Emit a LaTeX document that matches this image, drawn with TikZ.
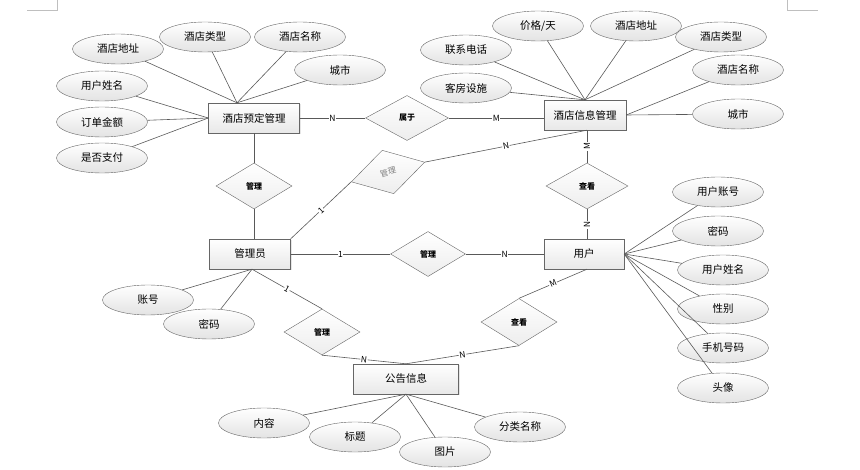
\documentclass[tikz,border=0pt]{standalone}
\usepackage{fontspec}
\newfontfamily\cjk{Noto Sans CJK SC}
\usetikzlibrary{shapes.geometric,shadows}

\begin{document}
\begin{tikzpicture}[x=1pt, y=-1pt,
    entity/.style={draw=black!60, top color=white, bottom color=black!9, minimum width=82pt, minimum height=30pt, inner sep=0pt,
      font=\cjk\fontsize{10.5}{12}\selectfont, drop shadow={opacity=0.2, shadow xshift=1.2pt, shadow yshift=-1.2pt}},
    attr/.style={ellipse, draw=black!60, top color=white, bottom color=black!11, minimum width=91pt, minimum height=30pt, inner sep=0pt,
      font=\cjk\fontsize{10.5}{12}\selectfont},
    rel/.style={diamond, draw=black!60, top color=white, bottom color=black!7, minimum width=76pt, minimum height=46pt, inner sep=0pt,
      font=\cjk\bfseries\fontsize{8}{9}\selectfont},
    conn/.style={draw=black!65, line width=0.6pt},
    card/.style={fill=white, inner sep=0.6pt, font=\cjk\fontsize{8.5}{9}\selectfont}]
    \useasboundingbox (0,0) rectangle (860,470);
    % page corner marks
    \draw[black!25] (27,10) -- (57,10) -- (57,0);
    \draw[black!25] (787,0) -- (787,10) -- (818,10);

    % entities
    \node[entity, minimum width=91pt] (booking) at (254,118) {酒店预定管理};
    \node[entity] (hotel) at (585,115) {酒店信息管理};
    \node[entity, minimum width=81pt] (admin) at (250,254) {管理员};
    \node[entity, minimum width=80pt] (user) at (584,254) {用户};
    \node[entity, minimum width=105pt] (notice) at (406,379) {公告信息};

    % relations
    \node[rel, minimum width=83pt, minimum height=45pt] (belong) at (407,118) {属于};
    \node[rel] (manage1) at (254,186) {管理};
    \node[rel, rotate=15, minimum height=45pt, text=black!50, font=\cjk\fontsize{8}{9}\selectfont] (manage2) at (388,172) {管理};
    \node[rel, minimum width=82pt] (view1) at (587,186) {查看};
    \node[rel, minimum width=75pt, minimum height=45pt] (manage3) at (428,254) {管理};
    \node[rel] (manage4) at (322,332) {管理};
    \node[rel, minimum height=47pt] (view2) at (519,322) {查看};

    % links between entities and relations
    \draw[conn] (booking.east) -- node[card] {N} (belong.west);
    \draw[conn] (belong.east) -- node[card] {M} (belong.east -| hotel.west);
    \draw[conn] (booking.south) -- (manage1.north);
    \draw[conn] (manage1.south) -- (manage1.south |- admin.north);
    \draw[conn] (admin.north east) -- node[card, sloped] {1} (manage2.west);
    \draw[conn] (manage2.east) -- node[card, sloped] {N} ([xshift=2pt]hotel.south);
    \draw[conn] (view1.north) -- node[card, sloped] {M} (view1.north |- hotel.south);
    \draw[conn] (view1.south) -- node[card, sloped, pos=0.53] {N} (view1.south |- user.north);
    \draw[conn] (admin.east) -- node[card] {1} (manage3.west);
    \draw[conn] (manage3.east) -- node[card] {N} (user.west);
    \draw[conn] ([xshift=2pt]admin.south) -- node[card, sloped] {1} (manage4.north);
    \draw[conn] (manage4.south) -- node[card, sloped] {N} (notice.north);
    \draw[conn] (view2.south) -- node[card, sloped] {N} (notice.north);
    \draw[conn] (view2.north) -- node[card, sloped] {M} ([xshift=3pt]user.south);

    % booking attributes
    \node[attr] (bAddr) at (118,49) {酒店地址};
    \node[attr] (bType) at (205,37) {酒店类型};
    \node[attr] (bName) at (300,37) {酒店名称};
    \node[attr] (bCity) at (340,70) {城市};
    \node[attr] (bUser) at (102,86) {用户姓名};
    \node[attr] (bSum) at (102,122) {订单金额};
    \node[attr] (bPaid) at (102,158) {是否支付};
    \coordinate (bTop) at ([xshift=-17pt]booking.north);
    \draw[conn] (bAddr) -- (bTop);
    \draw[conn] (bType) -- (bTop);
    \draw[conn] (bName) -- (bTop);
    \draw[conn] (bCity) -- (bTop);
    \draw[conn] (bUser) -- (booking.west);
    \draw[conn] (bSum) -- (booking.west);
    \draw[conn] (bPaid) -- (booking.west);

    % hotel attributes
    \node[attr] (hTel) at (466,50) {联系电话};
    \node[attr] (hPrice) at (538,26) {价格/天};
    \node[attr] (hAddr) at (636,26) {酒店地址};
    \node[attr] (hType) at (721,37) {酒店类型};
    \node[attr] (hFac) at (466,88) {客房设施};
    \node[attr] (hName) at (738,70) {酒店名称};
    \node[attr] (hCity) at (738,114) {城市};
    \draw[conn] (hTel) -- (hotel.north);
    \draw[conn] (hPrice) -- (hotel.north);
    \draw[conn] (hAddr) -- (hotel.north);
    \draw[conn] (hType) -- (hotel.north);
    \draw[conn] (hFac) -- (hotel.north);
    \draw[conn] (hName) -- (hotel.east);
    \draw[conn] (hCity) -- (hotel.east);

    % user attributes
    \node[attr] (uAcc) at (718,192) {用户账号};
    \node[attr] (uPwd) at (718,231) {密码};
    \node[attr] (uName) at (723,270) {用户姓名};
    \node[attr] (uSex) at (723,309) {性别};
    \node[attr] (uTel) at (723,348) {手机号码};
    \node[attr] (uPic) at (723,388) {头像};
    \draw[conn] (uAcc) -- (user.east);
    \draw[conn] (uPwd) -- (user.east);
    \draw[conn] (uName) -- (user.east);
    \draw[conn] (uSex) -- (user.east);
    \draw[conn] (uTel) -- (user.east);
    \draw[conn] (uPic) -- (user.east);

    % admin attributes
    \node[attr] (aAcc) at (148,300) {账号};
    \node[attr] (aPwd) at (209,324) {密码};
    \draw[conn] (aAcc) -- ([xshift=2pt]admin.south);
    \draw[conn] (aPwd) -- ([xshift=2pt]admin.south);

    % notice attributes
    \node[attr] (nText) at (264,423) {内容};
    \node[attr] (nTitle) at (355,437) {标题};
    \node[attr] (nPic) at (445,452) {图片};
    \node[attr] (nCat) at (520,427) {分类名称};
    \draw[conn] (nText) -- (notice.south);
    \draw[conn] (nTitle) -- (notice.south);
    \draw[conn] (nPic) -- (notice.south);
    \draw[conn] (nCat) -- (notice.south);
\end{tikzpicture}
\end{document}
